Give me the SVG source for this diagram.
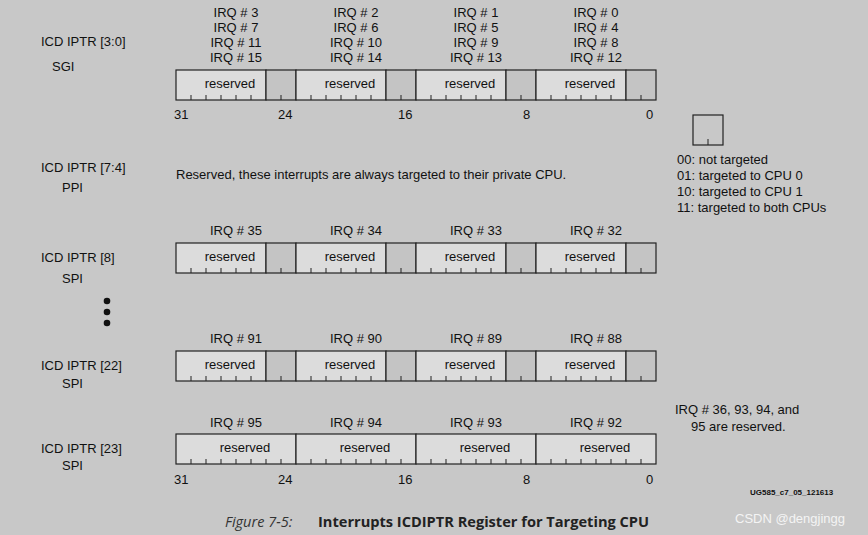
<svg xmlns="http://www.w3.org/2000/svg" width="868" height="535" viewBox="0 0 868 535">
<defs>
<style>
text{font-family:"Liberation Sans",Arial,sans-serif;font-size:13px;fill:#111}
.m{text-anchor:middle}
.lt{fill:#dcdcdc;stroke:#222;stroke-width:1.2}
.dk{fill:#c4c4c4;stroke:#222;stroke-width:1.2}
.tk{stroke:#222;stroke-width:1}
</style>
<g id="reg">
<rect class="lt" x="0" y="0" width="90" height="30"/><rect class="dk" x="90" y="0" width="30" height="30"/>
<rect class="lt" x="120" y="0" width="90" height="30"/><rect class="dk" x="210" y="0" width="30" height="30"/>
<rect class="lt" x="240" y="0" width="90" height="30"/><rect class="dk" x="330" y="0" width="30" height="30"/>
<rect class="lt" x="360" y="0" width="90" height="30"/><rect class="dk" x="450" y="0" width="30" height="30"/>
<path class="tk" d="M15 30v-5M30 30v-5M45 30v-5M60 30v-5M75 30v-5M105 30v-5M135 30v-5M150 30v-5M165 30v-5M180 30v-5M195 30v-5M225 30v-5M255 30v-5M270 30v-5M285 30v-5M300 30v-5M315 30v-5M345 30v-5M375 30v-5M390 30v-5M405 30v-5M420 30v-5M435 30v-5M465 30v-5"/>
<text class="m" x="54" y="18">reserved</text><text class="m" x="174" y="18">reserved</text><text class="m" x="294" y="18">reserved</text><text class="m" x="414" y="18">reserved</text>
</g>
</defs>
<rect width="868" height="535" fill="#c8c8c8"/>
<g id="labels">
<text x="41" y="46">ICD IPTR [3:0]</text><text x="52" y="71">SGI</text>
<text x="41" y="172">ICD IPTR [7:4]</text><text x="62" y="192">PPI</text>
<text x="41" y="262">ICD IPTR [8]</text><text x="62" y="283">SPI</text>
<text x="41" y="370">ICD IPTR [22]</text><text x="62" y="388">SPI</text>
<text x="41" y="453">ICD IPTR [23]</text><text x="62" y="470">SPI</text>
<circle cx="107" cy="301" r="3.3" fill="#111"/><circle cx="107" cy="312" r="3.3" fill="#111"/><circle cx="107" cy="323" r="3.3" fill="#111"/>
</g>
<g id="row0">
<text class="m" x="236" y="17">IRQ # 3</text><text class="m" x="356" y="17">IRQ # 2</text><text class="m" x="476" y="17">IRQ # 1</text><text class="m" x="596" y="17">IRQ # 0</text>
<text class="m" x="236" y="32">IRQ # 7</text><text class="m" x="356" y="32">IRQ # 6</text><text class="m" x="476" y="32">IRQ # 5</text><text class="m" x="596" y="32">IRQ # 4</text>
<text class="m" x="236" y="47">IRQ # 11</text><text class="m" x="356" y="47">IRQ # 10</text><text class="m" x="476" y="47">IRQ # 9</text><text class="m" x="596" y="47">IRQ # 8</text>
<text class="m" x="236" y="62">IRQ # 15</text><text class="m" x="356" y="62">IRQ # 14</text><text class="m" x="476" y="62">IRQ # 13</text><text class="m" x="596" y="62">IRQ # 12</text>
<use href="#reg" x="176" y="70"/>
<text x="174" y="119">31</text><text x="278" y="119">24</text><text x="398" y="119">16</text><text x="523" y="119">8</text><text x="646" y="119">0</text>
</g>
<g id="ppi"><text x="176" y="179">Reserved, these interrupts are always targeted to their private CPU.</text></g>
<g id="row8">
<text class="m" x="236" y="235">IRQ # 35</text><text class="m" x="356" y="235">IRQ # 34</text><text class="m" x="476" y="235">IRQ # 33</text><text class="m" x="596" y="235">IRQ # 32</text>
<use href="#reg" x="176" y="243"/>
</g>
<g id="row22">
<text class="m" x="236" y="343">IRQ # 91</text><text class="m" x="356" y="343">IRQ # 90</text><text class="m" x="476" y="343">IRQ # 89</text><text class="m" x="596" y="343">IRQ # 88</text>
<use href="#reg" x="176" y="351"/>
</g>
<g id="row23">
<text class="m" x="236" y="427">IRQ # 95</text><text class="m" x="356" y="427">IRQ # 94</text><text class="m" x="476" y="427">IRQ # 93</text><text class="m" x="596" y="427">IRQ # 92</text>
<rect class="lt" x="176" y="434" width="120" height="30"/><rect class="lt" x="296" y="434" width="120" height="30"/><rect class="lt" x="416" y="434" width="120" height="30"/><rect class="lt" x="536" y="434" width="120" height="30"/>
<path class="tk" d="M191 464v-5M206 464v-5M221 464v-5M236 464v-5M251 464v-5M266 464v-5M281 464v-5M311 464v-5M326 464v-5M341 464v-5M356 464v-5M371 464v-5M386 464v-5M401 464v-5M431 464v-5M446 464v-5M461 464v-5M476 464v-5M491 464v-5M506 464v-5M521 464v-5M551 464v-5M566 464v-5M581 464v-5M596 464v-5M611 464v-5M626 464v-5M641 464v-5"/>
<text class="m" x="245" y="452">reserved</text><text class="m" x="365" y="452">reserved</text><text class="m" x="485" y="452">reserved</text><text class="m" x="605" y="452">reserved</text>
<text x="174" y="484">31</text><text x="278" y="484">24</text><text x="398" y="484">16</text><text x="523" y="484">8</text><text x="646" y="484">0</text>
</g>
<g id="legend">
<rect x="693" y="115" width="30" height="30" fill="none" stroke="#222" stroke-width="1.2"/><path class="tk" d="M708 145v-6"/>
<text x="677" y="164">00: not targeted</text><text x="677" y="180">01: targeted to CPU 0</text><text x="677" y="196">10: targeted to CPU 1</text><text x="677" y="212">11: targeted to both CPUs</text>
<text x="675" y="414">IRQ # 36, 93, 94, and</text><text x="691" y="431">95 are reserved.</text>
<text x="750" y="495" style="font-size:8px;font-weight:bold">UG585_c7_05_121613</text>
</g>
<g id="caption">
<text x="225" y="527" style="font-size:14.5px;font-style:italic;font-family:'Open Sans',sans-serif;fill:#333">Figure 7-5:</text>
<text x="318" y="527" style="font-size:14.6px;font-weight:bold;font-family:'Open Sans',sans-serif;fill:#222">Interrupts ICDIPTR Register for Targeting CPU</text>
<text x="735" y="523" style="font-size:13px;fill:#f4f4f4">CSDN @dengjingg</text>
</g>
</svg>
